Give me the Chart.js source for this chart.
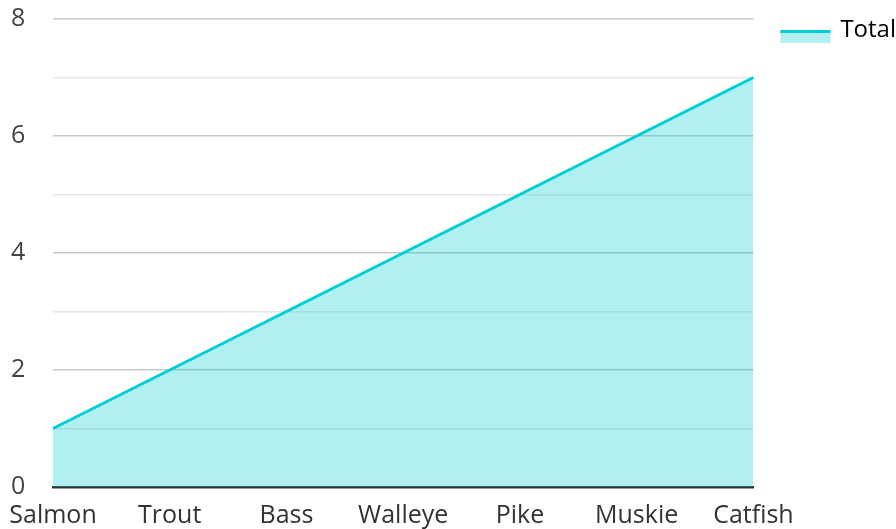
<!DOCTYPE html>
<html>
<head>
<meta charset="utf-8">
<script src="https://cdn.jsdelivr.net/npm/chart.js@4"></script>
<style>
  html, body { margin: 0; padding: 0; background: #fff; }
  #wrap { width: 896px; height: 529px; }
</style>
</head>
<body>
<div id="wrap"><canvas id="grafico"></canvas></div>
<script>
// datos del grafico
var categorias = ['Salmon', 'Trout', 'Bass', 'Walleye', 'Pike', 'Muskie', 'Catfish'];
var totales = [1, 2, 3, 4, 5, 6, 7];
var etiquetaSerie = 'Total';

var colorLinea = 'rgb(0, 206, 209)';
var colorRelleno = 'rgba(0, 206, 209, 0.31)';

// caja de la leyenda: relleno claro con barra superior
var cajaLeyenda = {
    id: 'cajaLeyenda',
    afterDraw: function (chart) {
        var leyenda = chart.legend;
        if (!leyenda || !leyenda.legendHitBoxes.length) return;
        var caja = leyenda.legendHitBoxes[0];
        var x = caja.left + 9;
        var y = caja.top + 12;
        var ctx = chart.ctx;
        ctx.save();
        ctx.fillStyle = colorRelleno;
        ctx.fillRect(x, y, 50, 13);
        ctx.fillStyle = colorLinea;
        ctx.fillRect(x, y, 50, 3);
        ctx.restore();
    }
};

var marco = document.getElementById('grafico').getContext('2d');

var grafico = new Chart(marco, {
    type: 'line',
    data: {
        labels: categorias,
        datasets: [{
            label: etiquetaSerie,
            data: totales,
            borderColor: colorLinea,
            backgroundColor: colorRelleno,
            borderWidth: 3,
            fill: 'origin',
            pointRadius: 0,
            tension: 0
        }]
    },
    options: {
        responsive: true,
        maintainAspectRatio: false,
        animation: false,
        layout: { padding: { top: 0, right: -10, left: 11, bottom: 0 } },
        plugins: {
            legend: {
                position: 'right',
                align: 'start',
                labels: {
                    boxWidth: 57,
                    boxHeight: 14,
                    padding: 18,
                    color: '#333',
                    font: { family: 'Open Sans', size: 24 },
                    generateLabels: function (chart) {
                        return [{
                            text: etiquetaSerie,
                            fillStyle: 'rgba(0,0,0,0)',
                            strokeStyle: 'rgba(0,0,0,0)',
                            lineWidth: 0,
                            datasetIndex: 0
                        }];
                    }
                }
            },
            tooltip: { enabled: false }
        },
        scales: {
            y: {
                min: 0,
                max: 8,
                afterFit: function (escala) { escala.width = 42; },
                ticks: {
                    stepSize: 1,
                    padding: 4,
                    crossAlign: 'far',
                    color: '#444',
                    font: { family: 'Open Sans', size: 25 },
                    callback: function (v) { return v % 2 === 0 ? v : ''; }
                },
                grid: {
                    drawTicks: false,
                    lineWidth: 1.5,
                    color: function (c) {
                        if (c.tick && c.tick.value === 0) return 'rgba(0,0,0,0)';
                        return c.tick && c.tick.value % 2 === 0 ? '#c8c8c8' : '#e6e6e6';
                    }
                },
                border: { display: false }
            },
            x: {
                offset: false,
                afterFit: function (escala) {
                    escala.height = 42;
                    escala.paddingLeft = 40;
                    escala.paddingRight = 40;
                },
                ticks: {
                    padding: 14,
                    color: '#333',
                    maxRotation: 0,
                    font: { family: 'Open Sans', size: 25 }
                },
                grid: { display: false, drawTicks: false },
                border: { display: true, color: '#333', width: 2.5 }
            }
        }
    },
    plugins: [cajaLeyenda]
});
</script>
</body>
</html>
